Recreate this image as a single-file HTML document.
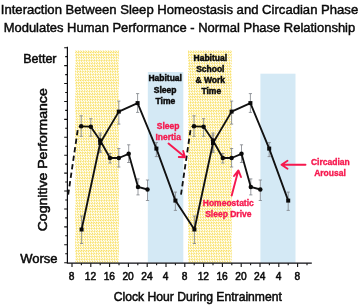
<!DOCTYPE html>
<html><head><meta charset="utf-8"><title>Interaction Between Sleep Homeostasis and Circadian Phase</title>
<style>
html,body{margin:0;padding:0;background:#fff;}
body{width:359px;height:306px;overflow:hidden;}
svg{display:block;}
text{font-family:"Liberation Sans",sans-serif;}
.t{font-size:13px;fill:#0a0a0a;stroke:#0a0a0a;stroke-width:0.45px;}
.ax{font-size:12.4px;fill:#0a0a0a;stroke:#0a0a0a;stroke-width:0.5px;}
.tk{font-size:9.9px;fill:#0c0c0c;stroke:#0c0c0c;stroke-width:0.5px;text-anchor:middle;}
.lb{font-size:8.5px;font-weight:bold;fill:#0a0a0a;stroke:#0a0a0a;stroke-width:0.45px;text-anchor:middle;}
.rd{font-size:8.5px;font-weight:bold;fill:#f6184e;stroke:#f6184e;stroke-width:0.35px;text-anchor:middle;}
</style></head><body>
<svg width="359" height="306" viewBox="0 0 359 306">
<defs>
<pattern id="hat" width="5" height="28" patternUnits="userSpaceOnUse" x="74" y="50">
<rect width="5" height="28" fill="#f9de57"/>
<path d="M-2.70,-2.70l1.1,1.2M-0.20,-2.70l1.1,1.2M2.30,-2.70l1.1,1.2M4.80,-2.70l1.1,1.2M-2.45,0.10l1.1,1.2M0.05,0.10l1.1,1.2M2.55,0.10l1.1,1.2M5.05,0.10l1.1,1.2M-2.20,2.90l1.1,1.2M0.30,2.90l1.1,1.2M2.80,2.90l1.1,1.2M5.30,2.90l1.1,1.2M-1.95,5.70l1.1,1.2M0.55,5.70l1.1,1.2M3.05,5.70l1.1,1.2M5.55,5.70l1.1,1.2M-1.70,8.50l1.1,1.2M0.80,8.50l1.1,1.2M3.30,8.50l1.1,1.2M5.80,8.50l1.1,1.2M-1.45,11.30l1.1,1.2M1.05,11.30l1.1,1.2M3.55,11.30l1.1,1.2M6.05,11.30l1.1,1.2M-1.20,14.10l1.1,1.2M1.30,14.10l1.1,1.2M3.80,14.10l1.1,1.2M6.30,14.10l1.1,1.2M-0.95,16.90l1.1,1.2M1.55,16.90l1.1,1.2M4.05,16.90l1.1,1.2M6.55,16.90l1.1,1.2M-0.70,19.70l1.1,1.2M1.80,19.70l1.1,1.2M4.30,19.70l1.1,1.2M6.80,19.70l1.1,1.2M-0.45,22.50l1.1,1.2M2.05,22.50l1.1,1.2M4.55,22.50l1.1,1.2M7.05,22.50l1.1,1.2M-0.20,25.30l1.1,1.2M2.30,25.30l1.1,1.2M4.80,25.30l1.1,1.2M7.30,25.30l1.1,1.2M0.05,28.10l1.1,1.2M2.55,28.10l1.1,1.2M5.05,28.10l1.1,1.2M7.55,28.10l1.1,1.2" stroke="#fffffb" stroke-width="1.45" stroke-linecap="round" fill="none"/>
</pattern>
</defs>
<rect width="359" height="306" fill="#fff"/>

<rect x="75.2" y="50.3" width="43.7" height="212.5" fill="url(#hat)"/>
<rect x="188.0" y="50.3" width="43.7" height="212.5" fill="url(#hat)"/>
<rect x="147.8" y="72.0" width="35.5" height="190.8" fill="#d4e9f5"/>
<rect x="260.4" y="73.7" width="35.1" height="189.10000000000002" fill="#d4e9f5"/>
<text class="t" x="0.8" y="14.4" textLength="357.4" lengthAdjust="spacingAndGlyphs">Interaction Between Sleep Homeostasis and Circadian Phase</text>
<text class="t" x="3.7" y="31.8" textLength="351.5" lengthAdjust="spacingAndGlyphs">Modulates Human Performance - Normal Phase Relationship</text>
<path d="M67.4,46.7 V263.2 H311.8" fill="none" stroke="#0c0c12" stroke-width="1.2"/>
<path d="M64.2,47.70H67.4 M65.2,56.66H67.4 M64.2,65.62H67.4 M65.2,74.58H67.4 M64.2,83.53H67.4 M65.2,92.49H67.4 M64.2,101.45H67.4 M65.2,110.41H67.4 M64.2,119.37H67.4 M65.2,128.32H67.4 M64.2,137.28H67.4 M65.2,146.24H67.4 M64.2,155.20H67.4 M65.2,164.16H67.4 M64.2,173.12H67.4 M65.2,182.07H67.4 M64.2,191.03H67.4 M65.2,199.99H67.4 M64.2,208.95H67.4 M65.2,217.91H67.4 M64.2,226.87H67.4 M65.2,235.82H67.4 M64.2,244.78H67.4 M65.2,253.74H67.4 M64.2,262.70H67.4 M72.00,263.2V267 M81.40,263.2V265.3 M90.80,263.2V267 M100.20,263.2V265.3 M109.60,263.2V267 M119.00,263.2V265.3 M128.40,263.2V267 M137.80,263.2V265.3 M147.20,263.2V267 M156.60,263.2V265.3 M166.00,263.2V267 M175.40,263.2V265.3 M184.80,263.2V267 M194.20,263.2V265.3 M203.60,263.2V267 M213.00,263.2V265.3 M222.40,263.2V267 M231.80,263.2V265.3 M241.20,263.2V267 M250.60,263.2V265.3 M260.00,263.2V267 M269.40,263.2V265.3 M278.80,263.2V267 M288.20,263.2V265.3 M297.60,263.2V267 M307.00,263.2V265.3" stroke="#111" stroke-width="1.1" fill="none"/>
<text class="tk" transform="translate(71.7,280.2) scale(1.03,1.16)">8</text>
<text class="tk" transform="translate(90.5,280.2) scale(1.03,1.16)">12</text>
<text class="tk" transform="translate(109.3,280.2) scale(1.03,1.16)">16</text>
<text class="tk" transform="translate(128.1,280.2) scale(1.03,1.16)">20</text>
<text class="tk" transform="translate(146.9,280.2) scale(1.03,1.16)">24</text>
<text class="tk" transform="translate(165.7,280.2) scale(1.03,1.16)">4</text>
<text class="tk" transform="translate(184.5,280.2) scale(1.03,1.16)">8</text>
<text class="tk" transform="translate(203.3,280.2) scale(1.03,1.16)">12</text>
<text class="tk" transform="translate(222.1,280.2) scale(1.03,1.16)">16</text>
<text class="tk" transform="translate(240.9,280.2) scale(1.03,1.16)">20</text>
<text class="tk" transform="translate(259.7,280.2) scale(1.03,1.16)">24</text>
<text class="tk" transform="translate(278.5,280.2) scale(1.03,1.16)">4</text>
<text class="tk" transform="translate(297.3,280.2) scale(1.03,1.16)">8</text>
<text class="ax" x="23.2" y="63.3" textLength="33.3" lengthAdjust="spacingAndGlyphs">Better</text>
<text class="ax" x="20.3" y="263.3" textLength="37.3" lengthAdjust="spacingAndGlyphs">Worse</text>
<text class="ax" x="113.7" y="300.5" textLength="168.2" lengthAdjust="spacingAndGlyphs">Clock Hour During Entrainment</text>
<text class="ax" transform="translate(47.3,231.3) rotate(-90)" textLength="143" lengthAdjust="spacingAndGlyphs">Cognitive Performance</text>
<text class="lb" x="165.2" y="81.1">Habitual</text>
<text class="lb" x="165.2" y="92.6">Sleep</text>
<text class="lb" x="165.4" y="104.3">Time</text>
<text class="lb" x="210.3" y="60.8">Habitual</text>
<text class="lb" x="210.3" y="71.8">School</text>
<text class="lb" x="210.3" y="83.1">&amp; Work</text>
<text class="lb" x="211.3" y="94.4">Time</text>
<text class="rd" x="168.2" y="128.7">Sleep</text>
<text class="rd" x="168.2" y="139.5">Inertia</text>
<text class="rd" x="330.3" y="164.8">Circadian</text>
<text class="rd" x="330" y="175.9">Arousal</text>
<text class="rd" x="228.3" y="205.7">Homeostatic</text>
<text class="rd" x="228.3" y="217">Sleep Drive</text>
<path d="M81.2,115.8V136.3M79.6,115.8h3.2M79.6,136.3h3.2 M90.8,118.7V136.2M89.2,118.7h3.2M89.2,136.2h3.2 M100.2,133.0V152.5M98.6,133.0h3.2M98.6,152.5h3.2 M110.0,153.5V163.0M108.4,153.5h3.2M108.4,163.0h3.2 M118.8,148.5V167.0M117.2,148.5h3.2M117.2,167.0h3.2 M128.7,144.8V162.5M127.1,144.8h3.2M127.1,162.5h3.2 M138.0,178.9V194.9M136.4,178.9h3.2M136.4,194.9h3.2 M147.5,180.0V200.5M145.9,180.0h3.2M145.9,200.5h3.2 M81.6,216.0V243.5M80.0,216.0h3.2M80.0,243.5h3.2 M100.2,135.0V151.0M98.6,135.0h3.2M98.6,151.0h3.2 M118.8,101.1V124.1M117.2,101.1h3.2M117.2,124.1h3.2 M137.6,93.6V112.4M136.0,93.6h3.2M136.0,112.4h3.2 M156.4,142.6V156.6M154.8,142.6h3.2M154.8,156.6h3.2 M175.4,192.1V210.4M173.8,192.1h3.2M173.8,210.4h3.2 M194.0,115.8V136.3M192.4,115.8h3.2M192.4,136.3h3.2 M203.6,118.7V136.2M202.0,118.7h3.2M202.0,136.2h3.2 M213.0,133.0V152.5M211.4,133.0h3.2M211.4,152.5h3.2 M222.8,153.5V163.0M221.2,153.5h3.2M221.2,163.0h3.2 M231.6,148.5V167.0M230.0,148.5h3.2M230.0,167.0h3.2 M241.5,144.8V162.5M239.9,144.8h3.2M239.9,162.5h3.2 M250.8,178.9V194.9M249.2,178.9h3.2M249.2,194.9h3.2 M260.3,180.0V200.5M258.7,180.0h3.2M258.7,200.5h3.2 M194.4,216.0V243.5M192.8,216.0h3.2M192.8,243.5h3.2 M213.0,135.0V151.0M211.4,135.0h3.2M211.4,151.0h3.2 M231.6,101.1V124.1M230.0,101.1h3.2M230.0,124.1h3.2 M250.4,93.6V112.4M248.8,93.6h3.2M248.8,112.4h3.2 M269.2,142.6V156.6M267.6,142.6h3.2M267.6,156.6h3.2 M288.2,192.1V210.4M286.6,192.1h3.2M286.6,210.4h3.2" stroke="#7d8288" stroke-width="0.8" fill="none"/>
<polyline points="81.6,229.5 100.2,143.0 118.8,111.6 137.6,103.1 156.4,148.6 175.4,200.6 194.4,229.5 213.0,143.0 231.6,111.6 250.4,103.1 269.2,148.6 288.2,200.6" fill="none" stroke="#111" stroke-width="1.85" stroke-linejoin="round"/>
<polyline points="81.2,126.3 90.8,126.7 100.2,140.5 110.0,158.0 118.8,158.0 128.7,153.8 138.0,186.9 147.5,189.5" fill="none" stroke="#111" stroke-width="1.85" stroke-linejoin="round"/>
<path d="M81.2,126.3 Q78.4,126.3 77.7,130 L68.2,194.7" stroke="#111" stroke-width="1.8" stroke-dasharray="5.2,3.4" stroke-dashoffset="3" fill="none"/>
<polyline points="194.0,126.3 203.6,126.7 213.0,140.5 222.8,158.0 231.6,158.0 241.5,153.8 250.8,186.9 260.3,189.5" fill="none" stroke="#111" stroke-width="1.85" stroke-linejoin="round"/>
<path d="M194.0,126.3 Q191.2,126.3 190.5,130 L181.0,194.7" stroke="#111" stroke-width="1.8" stroke-dasharray="5.2,3.4" stroke-dashoffset="3" fill="none"/>
<circle cx="81.2" cy="126.3" r="2.25" fill="#0a0a0a"/>
<circle cx="90.8" cy="126.7" r="2.25" fill="#0a0a0a"/>
<circle cx="100.2" cy="140.5" r="2.25" fill="#0a0a0a"/>
<circle cx="110.0" cy="158.0" r="2.25" fill="#0a0a0a"/>
<circle cx="118.8" cy="158.0" r="2.25" fill="#0a0a0a"/>
<circle cx="128.7" cy="153.8" r="2.25" fill="#0a0a0a"/>
<circle cx="138.0" cy="186.9" r="2.25" fill="#0a0a0a"/>
<circle cx="147.5" cy="189.5" r="2.25" fill="#0a0a0a"/>
<rect x="79.6" y="227.5" width="4" height="4" fill="#0a0a0a"/>
<rect x="98.2" y="141.0" width="4" height="4" fill="#0a0a0a"/>
<rect x="116.8" y="109.6" width="4" height="4" fill="#0a0a0a"/>
<rect x="135.6" y="101.1" width="4" height="4" fill="#0a0a0a"/>
<rect x="154.4" y="146.6" width="4" height="4" fill="#0a0a0a"/>
<rect x="173.4" y="198.6" width="4" height="4" fill="#0a0a0a"/>
<circle cx="194.0" cy="126.3" r="2.25" fill="#0a0a0a"/>
<circle cx="203.6" cy="126.7" r="2.25" fill="#0a0a0a"/>
<circle cx="213.0" cy="140.5" r="2.25" fill="#0a0a0a"/>
<circle cx="222.8" cy="158.0" r="2.25" fill="#0a0a0a"/>
<circle cx="231.6" cy="158.0" r="2.25" fill="#0a0a0a"/>
<circle cx="241.5" cy="153.8" r="2.25" fill="#0a0a0a"/>
<circle cx="250.8" cy="186.9" r="2.25" fill="#0a0a0a"/>
<circle cx="260.3" cy="189.5" r="2.25" fill="#0a0a0a"/>
<rect x="192.4" y="227.5" width="4" height="4" fill="#0a0a0a"/>
<rect x="211.0" y="141.0" width="4" height="4" fill="#0a0a0a"/>
<rect x="229.6" y="109.6" width="4" height="4" fill="#0a0a0a"/>
<rect x="248.4" y="101.1" width="4" height="4" fill="#0a0a0a"/>
<rect x="267.2" y="146.6" width="4" height="4" fill="#0a0a0a"/>
<rect x="286.2" y="198.6" width="4" height="4" fill="#0a0a0a"/>
<g stroke="#f6184e" stroke-width="1.9" fill="none" stroke-linecap="round" stroke-linejoin="round">
<path d="M168.5,143.5 L184.6,156.8 M178.8,157 L185,157.2 L183.2,151"/>
<path d="M305.5,164.8 H282 M287.5,160.8 L281.5,164.8 L287.5,168.8"/>
<path d="M231.7,195.6 L238.1,171.2 M234,176 L238.4,170.4 L241,177"/>
</g>
</svg></body></html>
